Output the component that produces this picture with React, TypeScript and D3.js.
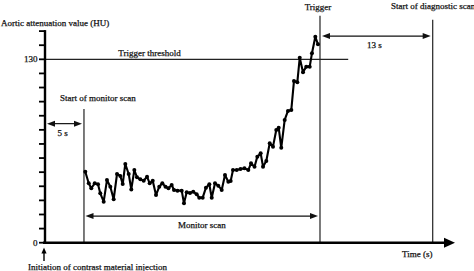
import React from 'react';
import * as d3 from 'd3';

// Time (s) after initiation of contrast injection
const timeS = [
  5.17, 5.61, 5.94, 6.38, 6.8, 7.09, 7.53, 7.95, 8.38, 8.81,
  9.24, 9.66, 9.97, 10.3, 10.74, 11.07, 11.46, 11.8, 12.23, 12.66,
  13.09, 13.43, 13.82, 14.24, 14.66, 15.05, 15.46, 15.84, 16.25, 16.55,
  17.0, 17.54, 17.83, 18.18, 18.6, 19.02, 19.46, 19.79, 20.23, 20.65,
  21.08, 21.39, 21.81, 22.23, 22.67, 23.09, 23.52, 23.82, 24.12, 24.59,
  25.08, 25.59, 26.08, 26.43, 26.88, 27.24, 27.67, 27.97, 28.39, 28.83,
  29.25, 29.67, 29.98, 30.31, 30.75, 31.17, 31.6, 31.94, 32.37, 32.68,
  33.1, 33.52, 33.96, 34.25, 34.68, 35.02,
];
// Aortic attenuation (HU)
const huValues = [
  50.3, 42.1, 38.6, 42.1, 41.4, 35.0, 29.1, 44.4, 39.7, 30.8,
  48.7, 47.3, 41.6, 55.8, 48.7, 37.8, 51.5, 46.4, 44.9, 43.9,
  46.8, 42.1, 43.9, 33.8, 39.7, 42.1, 39.7, 38.6, 40.9, 37.4,
  36.9, 36.9, 27.9, 35.7, 35.2, 36.2, 34.3, 31.9, 31.9, 39.0,
  41.4, 31.9, 42.1, 40.4, 37.4, 48.0, 43.2, 43.7, 51.5, 51.5,
  52.2, 52.7, 51.5, 56.3, 53.9, 61.0, 63.4, 53.9, 57.9, 70.5,
  68.1, 79.9, 81.5, 67.3, 87.0, 93.4, 94.1, 114.6, 113.7, 131.1,
  120.8, 124.8, 124.8, 134.3, 146.0, 140.6,
];

const yTicks = d3.range(0, 151, 10);
const yTickLabels = [0, 130];

const monitorStart = 5;
const triggerTime = 35.28;
const diagnosticTime = 49.74;
const thresholdHU = 130;
const thresholdEnd = 38.9;
const delayLabel = '5 s';
const scanDelayLabel = '13 s';

const W = 474;
const H = 271;
const FONT = '"Liberation Serif", "Times New Roman", Times, serif';

const x = d3.scaleLinear().domain([0, 52.6]).range([45, 455]);
const y = d3.scaleLinear().domain([0, 150]).range([242.7, 31.1]);

function head(tx: number, ty: number, dx: number, dy: number, len = 8, half = 3) {
  const bx = tx - dx * len;
  const by = ty - dy * len;
  const px = -dy * half;
  const py = dx * half;
  return `M${tx},${ty}L${bx + px},${by + py}L${bx - px},${by - py}Z`;
}

function HArrow({ x1, x2, yy }: { x1: number; x2: number; yy: number }) {
  return (
    <g>
      <line x1={x1 + 4} x2={x2 - 4} y1={yy} y2={yy} stroke="#111" strokeWidth={1.2} />
      <path d={head(x1, yy, -1, 0)} fill="#111" />
      <path d={head(x2, yy, 1, 0)} fill="#111" />
    </g>
  );
}

export default function App() {
  const data = timeS.map((t, i) => ({ t, v: huValues[i] }));
  const line = d3
    .line<{ t: number; v: number }>()
    .x((d) => x(d.t))
    .y((d) => y(d.v));

  const axisX = x(0);
  const axisY = y(0);
  const txt = {
    fontFamily: FONT,
    fontSize: 9,
    fill: '#111',
    stroke: '#111',
    strokeWidth: 0.25,
  } as const;

  return (
    <svg
      width={W}
      height={H}
      style={{ position: 'absolute', left: 0, top: 0, background: '#fff' }}
    >
      <rect width={W} height={H} fill="#fff" />

      {/* threshold */}
      <line x1={axisX} x2={x(thresholdEnd)} y1={y(thresholdHU)} y2={y(thresholdHU)} stroke="#222" strokeWidth={1.2} />
      <text x={x(9.4)} y={y(thresholdHU) - 3.5} {...txt}>Trigger threshold</text>

      {/* vertical markers */}
      <line x1={x(monitorStart)} x2={x(monitorStart)} y1={y(94.8)} y2={axisY} stroke="#222" strokeWidth={1.2} />
      <line x1={x(triggerTime)} x2={x(triggerTime)} y1={y(160.8)} y2={axisY} stroke="#222" strokeWidth={1.2} />
      <line x1={x(diagnosticTime)} x2={x(diagnosticTime)} y1={y(158)} y2={axisY} stroke="#222" strokeWidth={1.2} />

      {/* arrows */}
      <HArrow x1={x(0) + 2} x2={x(monitorStart) - 2} yy={y(84.4)} />
      <text x={x(1.6)} y={y(84.4) + 12} {...txt}>{delayLabel}</text>
      <HArrow x1={x(triggerTime) + 2} x2={x(diagnosticTime) - 2} yy={y(146.5)} />
      <text x={(x(triggerTime) + x(diagnosticTime)) / 2 - 2} y={y(146.5) + 11.5} {...txt} textAnchor="middle">{scanDelayLabel}</text>
      <HArrow x1={x(monitorStart) + 1.5} x2={x(triggerTime) - 2} yy={y(18.9)} />
      <text x={(x(monitorStart) + x(triggerTime)) / 2} y={y(18.9) + 11.5} {...txt} textAnchor="middle">Monitor scan</text>

      {/* data */}
      <path d={line(data) || ''} fill="none" stroke="#000" strokeWidth={2.1} strokeLinejoin="round" />
      {data.map((d, i) => (
        <circle key={i} cx={x(d.t)} cy={y(d.v)} r={2} fill="#000" />
      ))}

      {/* y axis */}
      <line x1={axisX} x2={axisX} y1={y(150) - 1} y2={axisY + 1} stroke="#000" strokeWidth={2.4} />
      {yTicks.map((t) => (
        <line key={t} x1={axisX - 6} x2={axisX} y1={y(t)} y2={y(t)} stroke="#000" strokeWidth={1.8} />
      ))}
      {yTickLabels.map((t) => (
        <text key={t} x={axisX - 7.5} y={y(t) + 3} {...txt} textAnchor="end">{t}</text>
      ))}

      {/* x axis */}
      <line x1={axisX - 2} x2={x(52.6) - 8} y1={axisY} y2={axisY} stroke="#000" strokeWidth={2.4} />
      <path d={head(x(52.6), axisY, 1, 0, 11, 5)} fill="#000" />

      {/* injection arrow */}
      <line x1={axisX - 1} x2={axisX - 1} y1={261} y2={252} stroke="#000" strokeWidth={1.4} />
      <path d={head(axisX - 1, 247.5, 0, -1, 6, 2.6)} fill="#000" />

      {/* labels */}
      <text x={1} y={26} {...txt}>Aortic attenuation value (HU)</text>
      <text x={x(monitorStart) - 24} y={101} {...txt}>Start of monitor scan</text>
      <text x={x(triggerTime) - 2} y={10} {...txt} textAnchor="middle">Trigger</text>
      <text x={391} y={8.5} {...txt}>Start of diagnostic scan</text>
      <text x={402} y={256.5} {...txt}>Time (s)</text>
      <text x={28} y={269.5} {...txt}>Initiation of contrast material injection</text>
    </svg>
  );
}
